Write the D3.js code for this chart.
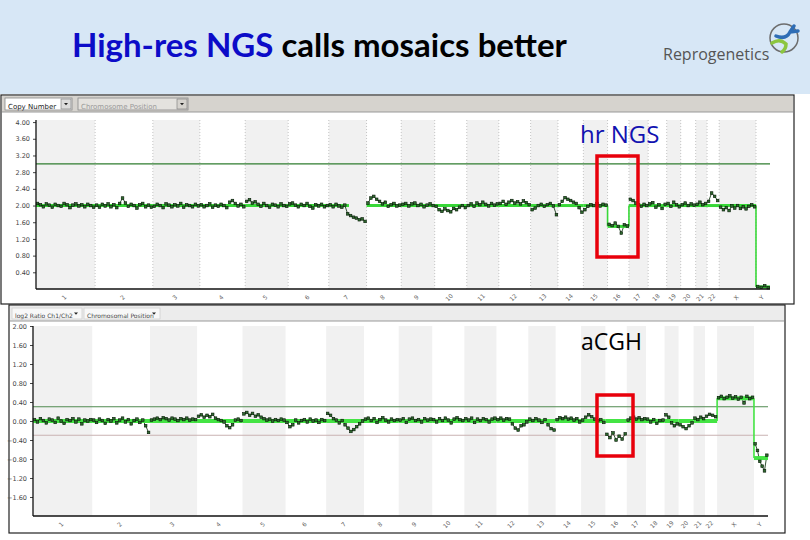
<!DOCTYPE html>
<html><head><meta charset="utf-8">
<script src="https://cdn.jsdelivr.net/npm/d3@7"></script>
<style>body{margin:0;background:#fff}svg{display:block}</style>
</head><body>
<svg id="c" width="810" height="540"></svg>
<script>
// ---------------- data ----------------
const chromosomes = ["1","2","3","4","5","6","7","8","9","10","11","12","13","14","15","16","17","18","19","20","21","22","X","Y"];
const chromLengthsMb = [249,243,198,191,181,171,159,146,141,135,135,134,115,107,102,90,81,78,59,63,48,51,155,59];

const ngsTicks = [4.0,3.6,3.2,2.8,2.4,2.0,1.6,1.2,0.8,0.4];
const acghTicks = [2.0,1.6,1.2,0.8,0.4,0.0,-0.4,-0.8,-1.2,-1.6];
const ngsThresholds = [3.0];
const acghThresholds = [0.3,-0.3];

// copy number per bin, one list per chromosome
const ngsValues = [
  [2.05,2.02,1.97,2.04,2.01,1.96,2.03,2.00,1.98,2.05,2.02,1.95,2.01,2.04,1.99,2.02,1.97,2.03,2.00,1.96],
  [2.01,1.96,2.03,1.99,2.04,1.97,2.02,1.95,2.05,2.18,2.06,1.98,2.03,2.00,1.94,2.02,2.05,1.97,2.01,1.96],
  [1.98,2.03,2.00,1.95,2.04,2.01,1.97,2.02,1.99,2.05,1.96,2.02,2.00,1.97,2.03,1.99],
  [2.02,1.97,2.00,2.04,1.96,2.01,1.98,2.03,2.00,1.95,2.08,2.12,2.05,1.99,2.03,1.97],
  [2.10,2.14,2.06,2.09,2.03,1.98,2.05,2.00,1.96,2.03,2.01,1.97,2.04,2.00,1.98],
  [2.04,2.06,2.01,1.97,2.03,2.00,2.05,1.98,1.94,2.02,1.99,2.03,1.97,2.00],
  [2.02,1.97,2.03,1.99,1.96,2.01,1.80,1.76,1.72,1.70,1.66,1.68,1.62],
  [2.06,2.18,2.22,2.15,2.10,2.04,2.08,1.98,2.02,2.05,1.99,2.01],
  [2.03,2.05,1.99,2.04,2.06,2.00,2.03,1.97,2.01,2.04,2.00],
  [1.98,1.90,1.86,1.92,1.88,1.85,1.93,1.90,1.96,2.00,1.95],
  [2.00,2.04,1.98,2.06,2.02,2.08,2.03,1.99,2.05,2.01,2.04],
  [2.05,2.10,2.03,2.08,2.12,2.06,2.09,2.04,2.11,2.07,2.02],
  [1.90,1.94,2.00,2.03,1.98,2.02,2.05,1.99,1.78],
  [2.02,2.10,2.19,2.15,2.12,2.08,2.05,1.95,1.84],
  [1.90,1.98,2.02,2.00,2.04,1.99,2.03,2.01],
  [1.55,1.52,1.58,1.50,1.34,1.54,1.51],
  [2.15,2.12,2.06,2.02,1.98,2.03,2.00],
  [2.04,2.07,1.96,2.02,1.93,2.03],
  [2.05,1.98,2.08,2.02,1.97],
  [2.02,2.06,2.00,2.04,2.01],
  [2.03,2.08,2.02,2.05],
  [2.10,2.30,2.22,2.12],
  [1.96,1.90,1.95,1.88,1.99,1.94,2.00,1.93,1.97,1.92,1.98,2.02,1.97],
  [0.06,0.04,0.08,0.03]
];

// log2 ratio per probe group, one list per chromosome
const acghValues = [
  [0.03,-0.02,0.05,0.01,-0.04,0.04,0.02,-0.03,0.06,0.00,-0.05,0.03,0.01,0.05,-0.02,0.04,-0.06,0.02,0.00,0.03],
  [0.02,-0.03,0.04,0.01,-0.05,0.03,0.00,0.05,-0.04,0.02,0.06,-0.02,0.03,-0.06,0.01,0.04,-0.03,0.02,-0.10,-0.24],
  [0.02,0.04,0.06,0.03,0.07,0.05,0.02,0.06,0.04,0.01,0.05,0.03,0.06,0.02,0.04,0.03],
  [0.10,0.13,0.08,0.12,0.09,0.14,0.06,0.03,0.01,-0.02,-0.10,-0.14,-0.08,0.02,0.04,0.01],
  [0.15,0.18,0.12,0.16,0.10,0.13,0.08,0.05,0.02,0.04,0.00,0.03,0.01,0.04,0.02],
  [-0.03,-0.12,-0.08,0.02,-0.04,0.01,0.03,-0.02,0.04,0.00,0.02,-0.03,0.03,0.01],
  [0.16,0.12,0.05,0.02,-0.04,0.01,-0.08,-0.15,-0.22,-0.18,-0.12,-0.06,0.00],
  [0.04,0.06,0.01,0.05,-0.03,0.03,0.07,0.02,-0.02,0.04,0.01,0.03],
  [0.02,0.05,-0.03,0.04,0.06,0.01,0.03,-0.02,0.05,0.02,0.04],
  [0.03,-0.02,0.05,0.01,0.06,0.02,-0.04,0.04,0.07,0.03,0.01],
  [0.05,0.02,0.06,-0.03,0.04,0.01,0.05,0.03,-0.02,0.04,0.06],
  [0.03,0.06,0.02,0.05,0.04,-0.06,-0.15,-0.19,-0.10,-0.08,-0.02],
  [0.04,0.01,0.05,0.02,-0.03,0.03,-0.08,-0.16,-0.19],
  [0.03,0.07,0.05,0.08,0.04,0.06,0.02,0.05,-0.02],
  [0.02,0.08,0.13,0.09,0.04,0.01,0.03,-0.03],
  [-0.28,-0.35,-0.25,-0.40,-0.32,-0.38,-0.27],
  [0.02,0.06,0.08,0.04,0.07,0.03,0.05],
  [0.04,-0.02,0.03,-0.05,0.01,0.02],
  [0.13,0.08,-0.04,-0.10,-0.06],
  [-0.08,-0.12,-0.16,-0.10,-0.04],
  [0.06,0.03,0.08,0.05],
  [0.10,0.14,0.12,0.09],
  [0.49,0.52,0.47,0.50,0.53,0.48,0.51,0.46,0.50,0.38,0.52,0.47,0.50],
  [-0.48,-0.62,-0.85,-0.95,-1.05,-0.72]
];

// segments: [chromosome index, start Mb, end Mb, level]
const ngsSegments = chromosomes.map((c,i) => [i, 0, chromLengthsMb[i], 2.0]);
ngsSegments[6] = [6, 0, 85, 2.0];
ngsSegments[15] = [15, 0, 90, 1.5];
ngsSegments[23] = [23, 0, 59, 0.05];

const acghSegments = chromosomes.map((c,i) => [i, 0, chromLengthsMb[i], 0.0]);
acghSegments[22] = [22, 0, 155, 0.48];
acghSegments[23] = [23, 0, 59, -0.78];

// ---------------- drawing ----------------
const svg = d3.select("#c");
const starts = [];
let acc = 0;
chromLengthsMb.forEach(l => { starts.push(acc); acc += l; });
const genomeLen = acc;

// header
svg.append("rect").attr("x",0).attr("y",0).attr("width",810).attr("height",94).attr("fill","#d7e7f6");
const title = svg.append("text").attr("x",72).attr("y",57)
  .attr("font-family","Lato, 'Open Sans', sans-serif").attr("font-weight","bold").attr("font-size",33);
title.append("tspan").attr("fill","#0c0cc8").text("High-res NGS");
title.append("tspan").attr("fill","#000").text(" calls mosaics better");

svg.append("text").attr("x",663).attr("y",60).attr("font-family","'Open Sans', sans-serif")
  .attr("font-size",16).attr("fill","#555").text("Reprogenetics");
svg.append("circle").attr("cx",784).attr("cy",38).attr("r",14).attr("fill","none").attr("stroke","#6d6d6d").attr("stroke-width",1.5);
svg.append("path").attr("d","M776,36 Q786,40 790,32 M790,32 L794,26 M790,32 L798,31").attr("fill","none")
  .attr("stroke","#2e6db5").attr("stroke-width",3.5).attr("stroke-linecap","round");
svg.append("path").attr("d","M772,43 Q780,38 786,44 Q786,49 782,52").attr("fill","none")
  .attr("stroke","#8cc63f").attr("stroke-width",3.5).attr("stroke-linecap","round");

function drawPanel(cfg) {
  const g = svg.append("g");
  // frame
  g.append("rect").attr("x",cfg.frame[0]).attr("y",cfg.frame[1]).attr("width",cfg.frame[2]).attr("height",cfg.frame[3])
    .attr("fill","#fff").attr("stroke","#222").attr("stroke-width",1.2);
  // toolbar
  g.append("rect").attr("x",cfg.frame[0]+1).attr("y",cfg.frame[1]+1).attr("width",cfg.frame[2]-2).attr("height",cfg.toolbarH)
    .attr("fill",cfg.toolbarFill);
  g.append("line").attr("x1",cfg.frame[0]+1).attr("x2",cfg.frame[0]+cfg.frame[2]-1)
    .attr("y1",cfg.frame[1]+1+cfg.toolbarH).attr("y2",cfg.frame[1]+1+cfg.toolbarH).attr("stroke","#999");
  cfg.boxes.forEach(b => {
    g.append("rect").attr("x",b.x).attr("y",cfg.frame[1]+3).attr("width",b.w).attr("height",cfg.toolbarH-4)
      .attr("fill",b.fill).attr("stroke",b.border).attr("stroke-width",0.8);
    g.append("text").attr("x",b.x+3).attr("y",cfg.frame[1]+cfg.toolbarH-2.5).attr("font-family","'DejaVu Sans', sans-serif")
      .attr("font-size",b.fs).attr("fill",b.color).text(b.label);
    if (b.btn) {
      g.append("rect").attr("x",b.x+b.w-11).attr("y",cfg.frame[1]+4).attr("width",10).attr("height",cfg.toolbarH-6)
        .attr("fill",b.btn).attr("stroke","#777").attr("stroke-width",0.6);
    }
    const cx = b.x+b.w-6, cy = cfg.frame[1]+cfg.toolbarH/2+1;
    g.append("path").attr("d",`M${cx-2},${cy-1} L${cx+2},${cy-1} L${cx},${cy+1.3} Z`).attr("fill","#222");
  });

  const x = d3.scaleLinear().domain([0, genomeLen]).range([cfg.x0, cfg.x1]);
  const y = d3.scaleLinear().domain(cfg.domain).range([cfg.yBottom, cfg.yTop]);

  // chromosome bands
  chromosomes.forEach((c,i) => {
    if (i % 2 === 0) {
      g.append("rect").attr("x",x(starts[i])).attr("y",cfg.yTop).attr("width",x(starts[i]+chromLengthsMb[i])-x(starts[i]))
        .attr("height",cfg.yBottom-cfg.yTop).attr("fill","#f1f1f1");
    }
    if (cfg.dotted && i > 0) {
      g.append("line").attr("x1",x(starts[i])).attr("x2",x(starts[i])).attr("y1",cfg.yTop).attr("y2",cfg.yBottom)
        .attr("stroke","#c4c4c4").attr("stroke-dasharray","1,2");
    }
  });

  // thresholds
  cfg.thresholds.forEach((t,k) => {
    g.append("line").attr("x1",cfg.x0).attr("x2",cfg.thrEnd).attr("y1",y(t)).attr("y2",y(t))
      .attr("stroke",cfg.thrColors[k]).attr("stroke-width",1.2);
  });

  // data points
  const pts = [];
  cfg.values.forEach((arr,i) => {
    const line = [];
    arr.forEach((v,j) => {
      const p = [x(starts[i] + (j+0.5)/arr.length*chromLengthsMb[i]), y(v)];
      pts.push(p); line.push(p);
    });
    g.append("path").attr("d", d3.line()(line)).attr("fill","none").attr("stroke","#1d3f1d").attr("stroke-width",0.9);
  });

  // segments
  const segs = cfg.segments.map(s => ({x1:x(starts[s[0]]+s[1]), x2:x(starts[s[0]]+s[2]), y:y(s[3]), end:starts[s[0]]+s[2], start:starts[s[0]]+s[1]}));
  segs.forEach((s,k) => {
    const n = segs[k+1];
    if (n && Math.abs(n.start - s.end) < 0.01 && Math.abs(n.y - s.y) > 1) {
      g.append("line").attr("x1",s.x2).attr("x2",s.x2).attr("y1",s.y).attr("y2",n.y)
        .attr("stroke",cfg.segColor).attr("stroke-width",1.6);
    }
  });
  segs.forEach(s => {
    g.append("line").attr("x1",s.x1).attr("x2",s.x2).attr("y1",s.y).attr("y2",s.y)
      .attr("stroke",cfg.segColor).attr("stroke-width",cfg.segWidth);
  });

  g.selectAll(null).data(pts).enter().append("rect")
    .attr("x",d=>d[0]-1.3).attr("y",d=>d[1]-1.3).attr("width",2.6).attr("height",2.6)
    .attr("fill","#2f6b2f").attr("stroke","#061806").attr("stroke-width",0.6);

  // axes
  const ya = d3.axisLeft(y).tickValues(cfg.ticks).tickFormat(d3.format(".2f")).tickSize(3).tickSizeOuter(0);
  const yg = g.append("g").attr("transform",`translate(${cfg.x0},0)`).call(ya);
  yg.select(".domain").remove();
  yg.selectAll("text").attr("font-family","'DejaVu Sans', sans-serif").attr("font-size",6.5).attr("fill","#444");
  yg.selectAll("line").attr("stroke","#444");
  g.append("line").attr("x1",cfg.x0).attr("x2",cfg.x0).attr("y1",cfg.yTop).attr("y2",cfg.yBottom).attr("stroke","#111").attr("stroke-width",1.3);
  g.append("line").attr("x1",cfg.x0).attr("x2",cfg.x1).attr("y1",cfg.yBottom).attr("y2",cfg.yBottom).attr("stroke","#111").attr("stroke-width",1.3);

  chromosomes.forEach((c,i) => {
    const cx = x(starts[i] + chromLengthsMb[i]/2);
    g.append("text").attr("transform",`translate(${cx},${cfg.labelY}) rotate(-45)`).attr("text-anchor","middle")
      .attr("font-family","'DejaVu Sans', sans-serif").attr("font-size",6).attr("fill","#666").text(c);
  });
}

drawPanel({
  frame:[1,95,793,209], toolbarH:16, toolbarFill:"#d6d3ce",
  boxes:[{x:5,w:67,label:"Copy Number",fill:"#fff",btn:"#dcdcdc",color:"#222",border:"#888",fs:7},
         {x:78,w:110,label:"Chromosome Position",fill:"#e4e2de",btn:"#d6d3ce",color:"#9a9a9a",border:"#888",fs:7}],
  x0:36, x1:770, yTop:120, yBottom:289, domain:[0,4.05], ticks:ngsTicks,
  thresholds:ngsThresholds, thrColors:["#2f7d2f"], thrEnd:770,
  values:ngsValues, segments:ngsSegments, segColor:"#38d838", segWidth:3, dotted:true, labelY:299
});

drawPanel({
  frame:[9,305,776,228], toolbarH:15, toolbarFill:"#ececec",
  boxes:[{x:12,w:70,label:"log2 Ratio Ch1/Ch2",fill:"#f8f8f8",btn:null,color:"#444",border:"#d0d0d0",fs:6},
         {x:84,w:76,label:"Chromosomal Position",fill:"#f8f8f8",btn:null,color:"#444",border:"#d0d0d0",fs:6}],
  x0:33, x1:768, yTop:326, yBottom:516, domain:[-2,2], ticks:acghTicks,
  thresholds:acghThresholds, thrColors:["#4f8a4f","#c9b2b2"], thrEnd:768,
  values:acghValues, segments:acghSegments, segColor:"#44e444", segWidth:4, dotted:false, labelY:526
});

// annotations
svg.append("text").attr("x",580).attr("y",143).attr("font-family","'Open Sans', sans-serif").attr("font-size",24)
  .attr("fill","#1212b0").text("hr NGS");
svg.append("text").attr("x",581).attr("y",350).attr("font-family","'Open Sans', sans-serif").attr("font-size",23)
  .attr("fill","#000").text("aCGH");
svg.append("rect").attr("x",597).attr("y",156).attr("width",41).attr("height",101).attr("fill","none")
  .attr("stroke","#e8000b").attr("stroke-width",3.5);
svg.append("rect").attr("x",597).attr("y",395).attr("width",36).attr("height",61).attr("fill","none")
  .attr("stroke","#e8000b").attr("stroke-width",3.5);
</script>
</body></html>
